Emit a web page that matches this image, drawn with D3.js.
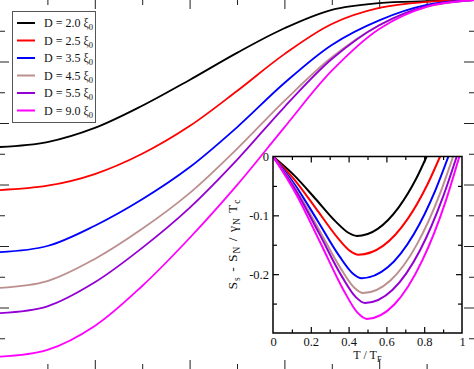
<!DOCTYPE html>
<html><head><meta charset="utf-8">
<script src="https://cdn.jsdelivr.net/npm/d3@7"></script>
<style>
html,body{margin:0;padding:0;background:#fff;}
svg{display:block;}
svg text{font-family:"Liberation Serif","Times New Roman",serif;}
</style>
</head><body>
<svg id="c" width="474" height="369"></svg>
<script>
// ---------- main panel data ----------
const mainX = [0, 0.5, 1, 1.5, 2, 2.5, 3, 3.5, 4, 4.5, 5];
const mainD20 = [0.761, 0.769, 0.792, 0.828, 0.870, 0.914, 0.954, 0.984, 0.995, 0.998, 1.0];
const mainD25 = [0.691, 0.698, 0.717, 0.750, 0.795, 0.852, 0.912, 0.961, 0.987, 0.997, 1.0];
const mainD35 = [0.590, 0.600, 0.633, 0.676, 0.728, 0.793, 0.865, 0.927, 0.967, 0.992, 1.0];
const mainD45 = [0.532, 0.543, 0.579, 0.628, 0.686, 0.758, 0.836, 0.907, 0.959, 0.989, 1.0];
const mainD55 = [0.491, 0.502, 0.541, 0.597, 0.662, 0.740, 0.826, 0.904, 0.959, 0.990, 1.0];
const mainD90 = [0.420, 0.431, 0.470, 0.535, 0.613, 0.699, 0.793, 0.885, 0.953, 0.989, 1.0];
const mainXMajor = [1, 2, 3, 4];
const mainXMinor = [0.5, 1.5, 2.5, 3.5, 4.5];
const mainYMajor = [0.5, 0.6, 0.7, 0.8, 0.9];
const mainYMinor = [0.45, 0.55, 0.65, 0.75, 0.85, 0.95];

// ---------- legend ----------
const legendLabels = ["D = 2.0 \u03be", "D = 2.5 \u03be", "D = 3.5 \u03be", "D = 4.5 \u03be", "D = 5.5 \u03be", "D = 9.0 \u03be"];
const seriesColors = ["#000000", "#ff0000", "#0000ff", "#bc8f8f", "#9400d3", "#ff00ff"];

// ---------- inset data (T/T_F, (S_s-S_N)/gamma_N T_c) ----------
const insD20x = [0, 0.111, 0.222, 0.332, 0.399, 0.443, 0.554, 0.665, 0.758, 0.813];
const insD20y = [0, -0.0317, -0.0709, -0.1107, -0.1296, -0.135, -0.1229, -0.0864, -0.0375, 0];
const insD25x = [0, 0.113, 0.226, 0.339, 0.407, 0.452, 0.582, 0.711, 0.819, 0.884];
const insD25y = [0, -0.0392, -0.0877, -0.1369, -0.1603, -0.167, -0.152, -0.1069, -0.0463, 0];
const insD35x = [0, 0.117, 0.235, 0.352, 0.422, 0.469, 0.607, 0.744, 0.859, 0.928];
const insD35y = [0, -0.0486, -0.1087, -0.1697, -0.1987, -0.207, -0.1884, -0.1325, -0.0574, 0];
const insD45x = [0, 0.119, 0.239, 0.358, 0.429, 0.477, 0.620, 0.763, 0.882, 0.953];
const insD45y = [0, -0.0545, -0.1218, -0.1902, -0.2227, -0.232, -0.2111, -0.1485, -0.0644, 0];
const insD55x = [0, 0.122, 0.244, 0.365, 0.438, 0.487, 0.633, 0.778, 0.899, 0.972];
const insD55y = [0, -0.0585, -0.1307, -0.2042, -0.239, -0.249, -0.2266, -0.1594, -0.0691, 0];
const insD90x = [0, 0.124, 0.248, 0.372, 0.446, 0.496, 0.643, 0.790, 0.913, 0.986];
const insD90y = [0, -0.0649, -0.1449, -0.2263, -0.265, -0.276, -0.2512, -0.1766, -0.0766, 0];
const insXLabels = [0, 0.2, 0.4, 0.6, 0.8, 1];
const insXMinor = [0.1, 0.3, 0.5, 0.7, 0.9];
const insYLabels = [0, -0.1, -0.2];
const insYMajor = [-0.1, -0.2];
const insYMinor = [-0.05, -0.15, -0.25];

const FONT = "Liberation Serif, Times New Roman, serif";
const svg = d3.select("#c").attr("font-family", FONT);
const W = 474, H = 369;

// ---------- main panel ----------
const x = d3.scaleLinear().domain([0, 5]).range([0, W]);
const y = d3.scaleLinear().domain([0.4, 1.0]).range([H, 0]);

function tickAxis(axisFn, scale, values, size, tx, ty, col, sw) {
  const g = svg.append("g").attr("transform", `translate(${tx},${ty})`)
    .call(axisFn(scale).tickValues(values).tickSize(size).tickFormat(""));
  g.select(".domain").remove();
  g.selectAll("line").attr("stroke", col).attr("stroke-width", sw);
  return g;
}
// inward ticks on all four (cropped) frame sides
tickAxis(d3.axisBottom, x, mainXMajor, 9, 0, 0, "#222", 1);
tickAxis(d3.axisBottom, x, mainXMinor, 5, 0, 0, "#222", 1);
tickAxis(d3.axisTop, x, mainXMajor, 9, 0, H, "#222", 1);
tickAxis(d3.axisTop, x, mainXMinor, 5, 0, H, "#222", 1);
tickAxis(d3.axisRight, y, mainYMajor, 9, 0, 0, "#222", 1);
tickAxis(d3.axisRight, y, mainYMinor, 5, 0, 0, "#222", 1);
tickAxis(d3.axisLeft, y, mainYMajor, 10, W, 0, "#222", 1);
tickAxis(d3.axisLeft, y, mainYMinor, 5, W, 0, "#222", 1);

const mainSeries = [mainD20, mainD25, mainD35, mainD45, mainD55, mainD90];
const mainLine = d3.line().x(d => x(d[0])).y(d => y(d[1])).curve(d3.curveCatmullRom.alpha(0.5));
mainSeries.forEach((s, i) => {
  svg.append("path")
    .attr("d", mainLine(mainX.map((v, j) => [v, s[j]])))
    .attr("fill", "none").attr("stroke", seriesColors[i]).attr("stroke-width", 1.8);
});

// ---------- legend ----------
const lg = svg.append("g");
lg.append("rect").attr("x", 12.5).attr("y", 11.5).attr("width", 83).attr("height", 111)
  .attr("fill", "#fff").attr("stroke", "#555").attr("stroke-width", 1);
legendLabels.forEach((lab, i) => {
  const yy = 23 + i * 17.5;
  lg.append("line").attr("x1", 17).attr("x2", 35).attr("y1", yy).attr("y2", yy)
    .attr("stroke", seriesColors[i]).attr("stroke-width", 2);
  const t = lg.append("text").attr("x", 44).attr("y", yy + 4).attr("font-size", 12)
    .attr("font-family", FONT).attr("fill", "#111");
  t.append("tspan").text(lab);
  t.append("tspan").attr("dy", 3).attr("font-size", 8.5).text("0");
});

// ---------- inset ----------
const ix = d3.scaleLinear().domain([0, 1]).range([273, 462]);
const iy = d3.scaleLinear().domain([-0.3, 0]).range([333, 156.5]);
svg.append("rect").attr("x", 273).attr("y", 156.5).attr("width", 189).attr("height", 176.5)
  .attr("fill", "#fff");
svg.append("clipPath").attr("id", "ic").append("rect")
  .attr("x", 273).attr("y", 156.5).attr("width", 189).attr("height", 176.5);

tickAxis(d3.axisTop, ix, insXLabels.slice(1, 5), 6, 0, 333, "#000", 1.2);
tickAxis(d3.axisTop, ix, insXMinor, 3.5, 0, 333, "#000", 1.2);
tickAxis(d3.axisBottom, ix, insXLabels.slice(1, 5), 6, 0, 156.5, "#000", 1.2);
tickAxis(d3.axisBottom, ix, insXMinor, 3.5, 0, 156.5, "#000", 1.2);
tickAxis(d3.axisRight, iy, insYMajor, 6, 273, 0, "#000", 1.2);
tickAxis(d3.axisRight, iy, insYMinor, 4, 273, 0, "#000", 1.2);
tickAxis(d3.axisLeft, iy, insYMajor, 6, 462, 0, "#000", 1.2);
tickAxis(d3.axisLeft, iy, insYMinor, 4, 462, 0, "#000", 1.2);

const insX = [insD20x, insD25x, insD35x, insD45x, insD55x, insD90x];
const insY = [insD20y, insD25y, insD35y, insD45y, insD55y, insD90y];
const insLine = d3.line().x(d => ix(d[0])).y(d => iy(d[1])).curve(d3.curveMonotoneX);
insX.forEach((xs, i) => {
  svg.append("path").attr("clip-path", "url(#ic)")
    .attr("d", insLine(xs.map((v, j) => [v, insY[i][j]])))
    .attr("fill", "none").attr("stroke", seriesColors[i]).attr("stroke-width", 2);
});

svg.append("rect").attr("x", 273).attr("y", 156.5).attr("width", 189).attr("height", 176.5)
  .attr("fill", "none").attr("stroke", "#000").attr("stroke-width", 1.5);

// tick labels
const fmt = d => String(+d.toFixed(1));
const xl = svg.append("g").attr("transform", "translate(0,333)")
  .call(d3.axisBottom(ix).tickValues(insXLabels).tickSize(0).tickPadding(4.5).tickFormat(fmt));
xl.select(".domain").remove();
xl.attr("font-family", FONT).attr("font-size", 12.5);
xl.selectAll("text").attr("fill", "#111");
const yl = svg.append("g").attr("transform", "translate(273,0)")
  .call(d3.axisLeft(iy).tickValues(insYLabels).tickSize(0).tickPadding(4).tickFormat(fmt));
yl.select(".domain").remove();
yl.attr("font-family", FONT).attr("font-size", 12.5);
yl.selectAll("text").attr("fill", "#111");

// axis titles
const xt = svg.append("text").attr("x", 367.5).attr("y", 358.5).attr("text-anchor", "middle")
  .attr("font-family", FONT).attr("font-size", 12).attr("fill", "#111");
xt.append("tspan").text("T / T");
xt.append("tspan").attr("dy", 3).attr("font-size", 8.5).text("F");

const yt = svg.append("text").attr("transform", "translate(237,244) rotate(-90)")
  .attr("text-anchor", "middle").attr("font-family", FONT).attr("font-size", 13.5)
  .attr("letter-spacing", 1).attr("fill", "#111");
const parts = [["S", 0], ["s", 1], [" - S", 0], ["N", 1], [" / \u03b3", 0], ["N", 1], [" T", 0], ["c", 1]];
let cur = 0;
parts.forEach(([txt, sub]) => {
  const dy = sub ? 3 - cur : -cur;
  cur = sub ? 3 : 0;
  yt.append("tspan").attr("dy", dy).attr("font-size", sub ? 9.5 : 13.5).text(txt);
});
</script>
</body></html>
